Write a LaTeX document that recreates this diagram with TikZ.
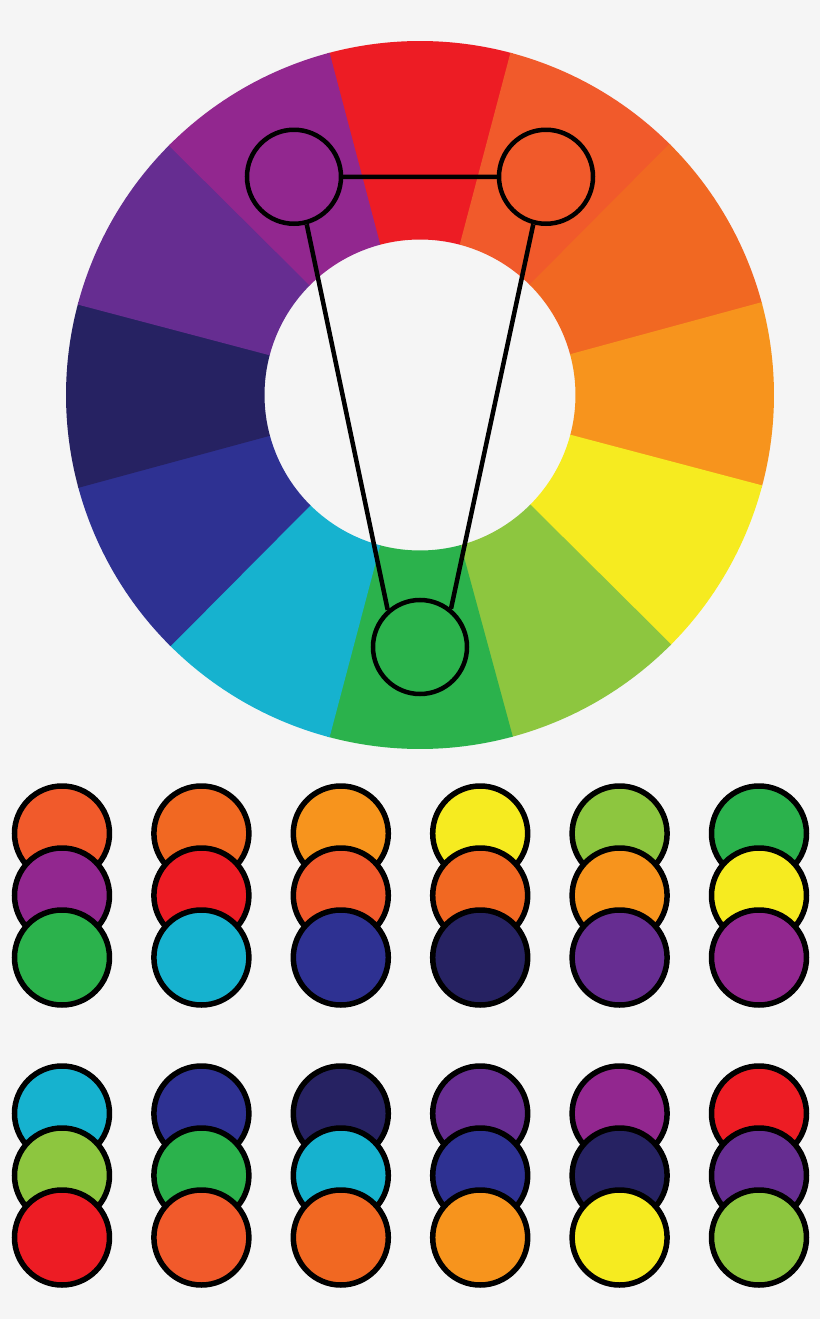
\documentclass[tikz,border=0pt]{standalone}
\definecolor{bgc}{HTML}{F5F5F5}
\definecolor{wred}{HTML}{ED1C24}
\definecolor{wredor}{HTML}{F15A2B}
\definecolor{worng}{HTML}{F16822}
\definecolor{wlorng}{HTML}{F7941D}
\definecolor{wyell}{HTML}{F6EB20}
\definecolor{wygrn}{HTML}{8DC63F}
\definecolor{wgrn}{HTML}{2BB24C}
\definecolor{wcyan}{HTML}{16B2CF}
\definecolor{wblue}{HTML}{2E3192}
\definecolor{wnavy}{HTML}{262262}
\definecolor{wviol}{HTML}{662D91}
\definecolor{wpurp}{HTML}{92278F}
\begin{document}
\begin{tikzpicture}[x=1pt,y=1pt,
	dot/.style={circle,draw=black,line width=4.5pt,minimum size=94pt,inner sep=0pt},
	swatch/.style={dot,line width=5.5pt,minimum size=95pt}]
	\fill[bgc] (-420,-924) rectangle (400,395);
	\foreach \a/\c in {90/wred,60/wredor,30/worng,0/wlorng,-30/wyell,-60/wygrn,-90/wgrn,-120/wcyan,-150/wblue,180/wnavy,150/wviol,120/wpurp}
		\fill[\c] ({\a-15.2}:354) arc[start angle=\a-15.2,end angle=\a+15.2,radius=354] -- ({\a+15.2}:155.5) arc[start angle=\a+15.2,end angle=\a-15.2,radius=155.5] -- cycle;
	\node[dot,fill=wpurp] (purp) at (120:252) {};
	\node[dot,fill=wredor] (redor) at (60:252) {};
	\node[dot,fill=wgrn] (grn) at (-90:252) {};
	\draw[line width=4.5pt] (purp) -- (redor) (purp.-75) -- (grn.131) (redor.-105) -- (grn.51);
	\foreach \p/\q/\r [count=\i from 0, evaluate=\i as \px using {-358+139.4*mod(\i,6)}, evaluate=\i as \py using {-438.5-280*floor(\i/6)}] in
		{wredor/wpurp/wgrn, worng/wred/wcyan, wlorng/wredor/wblue, wyell/worng/wnavy, wygrn/wlorng/wviol, wgrn/wyell/wpurp,
		 wcyan/wygrn/wred, wblue/wgrn/wredor, wnavy/wcyan/worng, wviol/wblue/wlorng, wpurp/wnavy/wyell, wred/wviol/wygrn} {
		\node[swatch,fill=\p] (sw\i-1) at (\px,\py) {};
		\node[swatch,fill=\q] (sw\i-2) at (\px,\py-62) {};
		\node[swatch,fill=\r] (sw\i-3) at (\px,\py-124) {};
	}
\end{tikzpicture}
\end{document}
